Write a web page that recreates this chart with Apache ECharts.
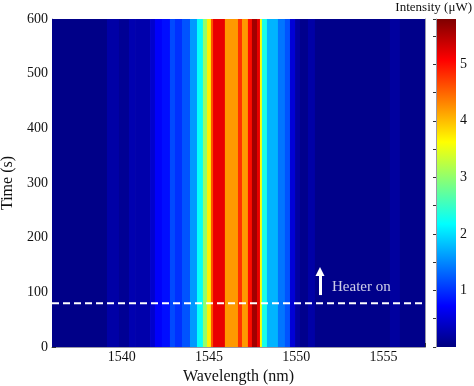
<!DOCTYPE html>
<html><head><meta charset="utf-8">
<script src="https://cdn.jsdelivr.net/npm/echarts@6/dist/echarts.min.js"></script>
<style>html,body{margin:0;padding:0;background:#fff}#c{width:474px;height:386px}</style>
</head><body><div id="c"></div>
<script>
// Spectral bins (nm): intensity constant over time
const wavelengthEdges = [1536.00,1539.15,1539.84,1540.41,1540.76,1541.62,1541.90,1542.30,1542.76,1543.05,1543.45,1543.91,1544.31,1544.65,1544.88,1545.11,1545.23,1545.91,1546.66,1546.89,1547.23,1547.46,1547.75,1547.92,1548.03,1548.32,1548.95,1549.35,1549.64,1549.93,1550.21,1550.67,1551.07,1555.37,1555.94,1557.38];
const intensity = [0.05,0.22,0.12,0.28,0.25,0.45,0.7,0.8,1.15,1.0,1.2,1.6,2.2,3.0,3.7,4.6,5.2,4.2,4.8,4.2,5.0,5.6,5.2,3.6,2.3,1.75,1.4,1.2,0.5,0.2,0.08,0.22,0.06,0.18,0.06];
const timeRange = [0, 600];
const wavelengthRange = [1536, 1557.38];
const intensityMax = 5.8;
const heaterOnTime = 80;
const xTickLabels = [1540, 1545, 1550, 1555];
const yTickLabels = [0, 100, 200, 300, 400, 500, 600];
const colorbarTickLabels = [1, 2, 3, 4, 5];
const arrowX = 1551.36, arrowFrom = 95, arrowTo = 138;
const noteX = 1552.05, noteY = 110, noteText = 'Heater on';

const jet = ['#00007F','#0000FF','#007FFF','#00FFFF','#7FFF7F','#FFFF00','#FF7F00','#FF0000','#7F0000'];
const cells = intensity.map((v, i) => [wavelengthEdges[i], wavelengthEdges[i + 1], v]);
const serif = '"Liberation Serif","Times New Roman",serif';

const chart = echarts.init(document.getElementById('c'));
chart.setOption({
  animation: false,
  backgroundColor: '#fff',
  textStyle: { fontFamily: serif },
  grid: [
    { left: 52, top: 19, width: 373, height: 328, containLabel: false, outerBoundsMode: 'none' },
    { left: 436, top: 19, width: 20, height: 328, containLabel: false, outerBoundsMode: 'none' }
  ],
  xAxis: [
    { type: 'value', gridIndex: 0, min: wavelengthRange[0], max: wavelengthRange[1], splitNumber: 4,
      axisLine: { show: true, lineStyle: { color: '#9a9aa8' } },
      axisTick: { show: true, inside: true, length: 4, lineStyle: { color: '#333' } },
      splitLine: { show: false },
      axisLabel: { margin: 3, fontSize: 14, color: '#111', fontFamily: serif,
        formatter: v => xTickLabels.includes(Math.round(v * 1000) / 1000) ? String(v) : '' },
      name: 'Wavelength (nm)', nameLocation: 'middle', nameGap: 21,
      nameTextStyle: { fontSize: 16, color: '#111', fontFamily: serif } },
    { type: 'value', gridIndex: 0, position: 'top', min: wavelengthRange[0], max: wavelengthRange[1],
      axisLine: { show: true, lineStyle: { color: '#9a9aa8' } }, axisTick: { show: false },
      axisLabel: { show: false }, splitLine: { show: false } },
    { type: 'value', gridIndex: 1, min: 0, max: 1, show: false }
  ],
  yAxis: [
    { type: 'value', gridIndex: 0, min: timeRange[0], max: timeRange[1], interval: 100,
      axisLine: { show: true, lineStyle: { color: '#9a9aa8' } },
      axisTick: { show: true, inside: true, length: 4, lineStyle: { color: '#333' } },
      splitLine: { show: false },
      axisLabel: { margin: 4, fontSize: 14, color: '#111', fontFamily: serif,
        formatter: v => yTickLabels.includes(v) ? String(v) : '' },
      name: 'Time (s)', nameLocation: 'middle', nameGap: 35,
      nameTextStyle: { fontSize: 16, color: '#111', fontFamily: serif } },
    { type: 'value', gridIndex: 0, position: 'right', min: timeRange[0], max: timeRange[1],
      axisLine: { show: true, lineStyle: { color: '#9a9aa8' } }, axisTick: { show: false },
      axisLabel: { show: false }, splitLine: { show: false } },
    { type: 'value', gridIndex: 1, position: 'right', min: 0, max: intensityMax, interval: 0.5,
      axisLine: { show: true, lineStyle: { color: '#9a9aa8' } },
      axisTick: { show: true, inside: true, length: 3, lineStyle: { color: '#333' } },
      splitLine: { show: false },
      axisLabel: { margin: 4, fontSize: 14, color: '#111', fontFamily: serif,
        formatter: v => colorbarTickLabels.includes(v) ? String(v) : '' } }
  ],
  visualMap: {
    type: 'continuous', show: false, min: 0, max: intensityMax, dimension: 2, seriesIndex: 0,
    inRange: { color: jet }
  },
  graphic: [
    { type: 'rect', left: 436, top: 19, z: 0,
      shape: { width: 20, height: 328 },
      style: { fill: new echarts.graphic.LinearGradient(0, 1, 0, 0,
        jet.map((c, i) => ({ offset: i / (jet.length - 1), color: c }))) } },
    { type: 'text', right: 2, top: 1, style: { text: 'Intensity (\u03bcW)', font: '13px ' + serif, fill: '#111' } }
  ],
  series: [
    { type: 'custom', xAxisIndex: 0, yAxisIndex: 0, data: cells, encode: { x: [0, 1] }, clip: true,
      renderItem: (params, api) => {
        const p0 = api.coord([api.value(0), timeRange[1]]);
        const p1 = api.coord([api.value(1), timeRange[0]]);
        return { type: 'rect', shape: { x: p0[0], y: p0[1], width: p1[0] - p0[0] + 0.6, height: p1[1] - p0[1] },
          style: { fill: api.visual('color') } };
      } },
    { type: 'line', xAxisIndex: 0, yAxisIndex: 0, symbol: 'none', silent: true, z: 5,
      data: [[wavelengthRange[0], heaterOnTime], [wavelengthRange[1], heaterOnTime]],
      lineStyle: { color: '#fff', width: 2, type: [7, 4] },
      markLine: { silent: true, symbol: ['none', 'triangle'], symbolSize: [9, 9], label: { show: false },
        lineStyle: { color: '#fff', width: 3, type: 'solid' },
        data: [[{ coord: [arrowX, arrowFrom] }, { coord: [arrowX, arrowTo] }]] } },
    { type: 'scatter', xAxisIndex: 0, yAxisIndex: 0, symbolSize: 0, silent: true, z: 6,
      data: [[noteX, noteY]],
      label: { show: true, position: 'right', distance: 0, formatter: noteText, color: '#fff', fontSize: 15, fontFamily: serif } }
  ]
});
</script></body></html>
